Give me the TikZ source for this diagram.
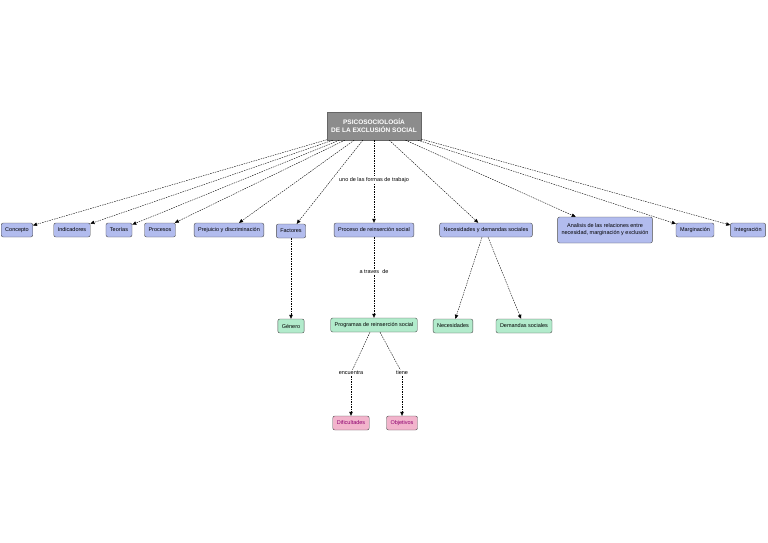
\documentclass[tikz,border=0pt]{standalone}
\usepackage{fontspec}
\setmainfont{Liberation Sans}
\usetikzlibrary{arrows.meta}
\begin{document}
\begin{tikzpicture}[x=1pt,y=-1pt,
  box/.style={draw=black!70,rounded corners=2pt,font=\fontsize{5.5}{7}\selectfont,inner xsep=4pt,inner ysep=2.5pt,minimum height=14pt,align=center},
  blue/.style={box,fill={rgb,255:red,178;green,188;blue,238}},
  green/.style={box,fill={rgb,255:red,178;green,235;blue,204}},
  pink/.style={box,fill={rgb,255:red,242;green,180;blue,204},text={rgb,255:red,140;green,0;blue,110}},
  lab/.style={font=\fontsize{5.5}{6.5}\selectfont,inner sep=1pt,fill=white},
  arr/.style={dashed,dash pattern=on 1.5pt off 1pt,line width=0.4pt,-{Triangle[length=4pt,width=3.5pt]}},
  ln/.style={dashed,dash pattern=on 1.5pt off 1pt,line width=0.4pt}]
\useasboundingbox (0,0) rectangle (768,543);
\node[draw=black!60,fill=black!45,text=white,font=\bfseries\fontsize{6.5}{8}\selectfont,align=center,minimum width=94pt,minimum height=28pt,inner sep=2pt] (root) at (374,126) {PSICOSOCIOLOGÍA\\DE LA EXCLUSIÓN SOCIAL};
\node[blue] (c) at (17,230) {Concepto};
\node[blue] (i) at (72,230) {Indicadores};
\node[blue] (t) at (119,230) {Teorías};
\node[blue] (p) at (160,230) {Procesos};
\node[blue] (pr) at (229,230) {Prejuicio y discriminación};
\node[blue] (f) at (291,231) {Factores};
\node[blue] (prs) at (374,230) {Proceso de reinserción social};
\node[blue] (nd) at (486,230) {Necesidades y demandas sociales};
\node[blue,minimum height=26pt] (an) at (605,230) {Analisis de las relaciones entre\\necesidad, marginación y exclusión};
\node[blue] (m) at (695,230) {Marginación};
\node[blue] (in) at (748,230) {Integración};
\node[green] (g) at (291,326) {Género};
\node[green] (prog) at (374,325) {Programas de reinserción social};
\node[green] (n) at (453,326) {Necesidades};
\node[green] (ds) at (524,326) {Demandas sociales};
\node[pink] (d) at (351,423) {Dificultades};
\node[pink] (o) at (402,423) {Objetivos};
\node[lab] (l1) at (374,180) {uno de las formas de trabajo};
\node[lab] (l2) at (374,272) {a traves\ \ de};
\node[lab] (l3) at (351,373) {encuentra};
\node[lab] (l4) at (402,373) {tiene};
\foreach \t in {c,i,t,p,pr,f,nd,an,m,in}
  \draw[arr] (root) -- (\t);
\draw[ln] (root) -- (l1); \draw[arr] (l1) -- (prs);
\draw[ln] (prs) -- (l2); \draw[arr] (l2) -- (prog);
\draw[arr] (f) -- (g);
\draw[arr] (nd.south) ++(-4,0) coordinate (a1) (a1) -- (n);
\draw[arr] (nd.south) ++(2,0) coordinate (a2) (a2) -- (ds);
\draw[ln] (prog.south) ++(-4,0) coordinate (b1) (b1) -- (l3); \draw[arr] (l3) -- (d);
\draw[ln] (prog.south) ++(6,0) coordinate (b2) (b2) -- (l4); \draw[arr] (l4) -- (o);
\end{tikzpicture}
\end{document}
